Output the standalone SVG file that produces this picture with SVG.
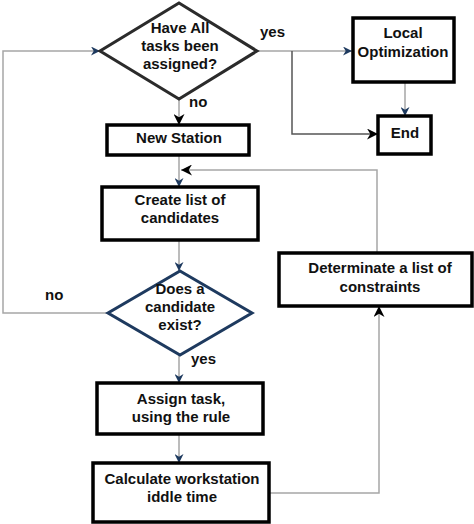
<svg xmlns="http://www.w3.org/2000/svg" width="474" height="524" viewBox="0 0 474 524">
<style>
text{font-family:"Liberation Sans",Arial,sans-serif;font-weight:bold;font-size:15px;fill:#111;text-anchor:middle}
.lbl{text-anchor:start}
.box{fill:#fff;stroke:#000;stroke-width:3.5}
.dia{fill:#fff;stroke-width:3}
.c{fill:none;stroke:#a6a6a6;stroke-width:1.5}
.cd{fill:none;stroke:#555;stroke-width:1.5}
</style>
<defs>
<marker id="an" viewBox="0 0 10 10" refX="10" refY="5" markerWidth="9" markerHeight="9" markerUnits="userSpaceOnUse" orient="auto"><path d="M0,0 L10,5 L0,10 L3,5 z" fill="#1e3a5f"/></marker>
<marker id="ab" viewBox="0 0 10 10" refX="10" refY="5" markerWidth="11" markerHeight="11" markerUnits="userSpaceOnUse" orient="auto"><path d="M0,0 L10,5 L0,10 L3,5 z" fill="#000"/></marker>
</defs>
<rect width="474" height="524" fill="#fff"/>
<g id="connectors">
<path class="c" d="M179,99 V125" marker-end="url(#ab)"/>
<path class="c" d="M257,51 H352" marker-end="url(#an)"/>
<path class="cd" d="M292,51 V134 H378" marker-end="url(#ab)"/>
<path class="c" d="M405,82 V116" marker-end="url(#an)"/>
<path class="c" d="M179,155 V187" marker-end="url(#an)"/>
<path class="c" d="M377,253 V170 H181" marker-end="url(#ab)"/>
<path class="c" d="M179,240 V271" marker-end="url(#an)"/>
<path class="c" d="M108,313 H3 V51 H100" marker-end="url(#an)"/>
<path class="c" d="M179,355 V383" marker-end="url(#an)"/>
<path class="c" d="M179,434 V463" marker-end="url(#an)"/>
<path class="c" d="M269,493 H379 V306" marker-end="url(#ab)"/>
</g>
<g id="n_assigned">
<polygon class="dia" stroke="#2b2b2b" points="179,3 257,51 179,99 100,51"/>
<text x="180" y="33">Have All</text>
<text x="180" y="51">tasks been</text>
<text x="180" y="69">assigned?</text>
</g>
<g id="l_yes1"><text class="lbl" x="260" y="37">yes</text></g>
<g id="l_no1"><text class="lbl" x="189" y="107">no</text></g>
<g id="n_local">
<rect class="box" x="353" y="18" width="101" height="64"/>
<text x="403" y="38">Local</text>
<text x="403" y="57">Optimization</text>
</g>
<g id="n_end">
<rect class="box" x="378" y="116" width="53" height="38"/>
<text x="405" y="138">End</text>
</g>
<g id="n_newstation">
<rect class="box" x="107" y="125" width="142" height="30"/>
<text x="179" y="143">New Station</text>
</g>
<g id="n_create">
<rect class="box" x="102" y="187" width="156" height="53"/>
<text x="180" y="205">Create list of</text>
<text x="180" y="223">candidates</text>
</g>
<g id="n_exist">
<polygon class="dia" stroke="#1e3a5f" points="180,271 252,313 180,355 108,313"/>
<text x="180" y="294">Does a</text>
<text x="180" y="312">candidate</text>
<text x="180" y="330">exist?</text>
</g>
<g id="l_no2"><text class="lbl" x="45" y="300">no</text></g>
<g id="l_yes2"><text class="lbl" x="191" y="364">yes</text></g>
<g id="n_constraints">
<rect class="box" x="279" y="253" width="193" height="53"/>
<text x="380" y="273">Determinate a list of</text>
<text x="380" y="292">constraints</text>
</g>
<g id="n_assign">
<rect class="box" x="97" y="383" width="166" height="51"/>
<text x="181" y="404">Assign task,</text>
<text x="181" y="422">using the rule</text>
</g>
<g id="n_calc">
<rect class="box" x="93" y="463" width="176" height="59"/>
<text x="182" y="484">Calculate workstation</text>
<text x="182" y="502">iddle time</text>
</g>
</svg>
